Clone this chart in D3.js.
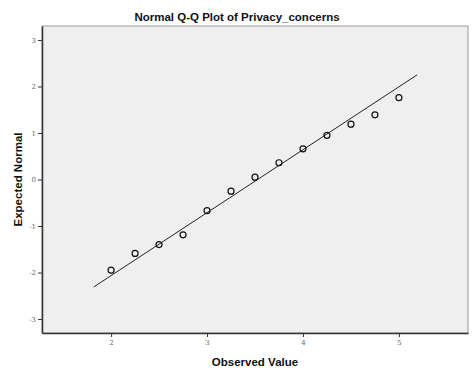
<!DOCTYPE html>
<meta charset="utf-8">
<script src="https://d3js.org/d3.v7.min.js"></script>
<style>
  body { margin: 0; background: #fff; }
  text { font-family: "Liberation Sans", Arial, sans-serif; }
</style>
<div id="chart"></div>
<script>
// observed values and their expected normal scores
var observed = [2, 2.25, 2.5, 2.75, 3, 3.25, 3.5, 3.75, 4, 4.25, 4.5, 4.75, 5];
var expected = [-1.95, -1.59, -1.40, -1.19, -0.67, -0.25, 0.05, 0.36, 0.66, 0.95, 1.19, 1.39, 1.76];
// reference line end points
var lineX = [1.82, 5.19];
var lineY = [-2.31, 2.25];
var xTicks = [2, 3, 4, 5];
var yTicks = [-3, -2, -1, 0, 1, 2, 3];

var W = 474, H = 379;
var margin = {top: 26, right: 6, bottom: 46, left: 42};
var width = W - margin.left - margin.right,
    height = H - margin.top - margin.bottom;

var svg = d3.select("#chart").append("svg")
    .attr("width", W).attr("height", H);

var g = svg.append("g")
    .attr("transform", "translate(" + margin.left + "," + margin.top + ")");

var x = d3.scaleLinear().domain([1.28, 5.72]).range([0, width]);
var y = d3.scaleLinear().domain([-3.3, 3.3]).range([height, 0]);

// plot background
g.append("rect")
  .attr("width", width).attr("height", height)
  .attr("fill", "#efefef")
  .attr("stroke", "#999").attr("stroke-width", 1);

// axes, plain integer labels with a hyphen minus
var fmt = function(d) { return String(d); };
var xAxis = g.append("g")
  .attr("transform", "translate(0," + height + ")")
  .call(d3.axisBottom(x).tickValues(xTicks).tickFormat(fmt).tickSize(4).tickPadding(3).tickSizeOuter(0));
var yAxis = g.append("g")
  .call(d3.axisLeft(y).tickValues(yTicks).tickFormat(fmt).tickSize(4).tickPadding(2).tickSizeOuter(0));

[xAxis, yAxis].forEach(function(a) {
  a.select(".domain").attr("stroke", "#333").attr("stroke-width", 1.5);
  a.selectAll(".tick line").attr("stroke", "#333");
  a.selectAll(".tick text")
    .style("font-size", "7px")
    .style("font-family", "'DejaVu Serif', serif")
    .attr("fill", "#666");
});

// reference line
g.append("line")
  .attr("x1", x(lineX[0])).attr("y1", y(lineY[0]))
  .attr("x2", x(lineX[1])).attr("y2", y(lineY[1]))
  .attr("stroke", "#222").attr("stroke-width", 1);

// points
g.append("g").selectAll("circle")
  .data(observed)
  .enter().append("circle")
    .attr("cx", function(d) { return x(d); })
    .attr("cy", function(d, i) { return y(expected[i]); })
    .attr("r", 3)
    .attr("fill", "none")
    .attr("stroke", "#111")
    .attr("stroke-width", 1.2);

// title
svg.append("text")
  .attr("x", 237).attr("y", 21)
  .attr("text-anchor", "middle")
  .style("font-size", "11.5px").style("font-weight", "bold")
  .attr("fill", "#111")
  .text("Normal Q-Q Plot of Privacy_concerns");

// x label
svg.append("text")
  .attr("x", margin.left + width / 2).attr("y", 366)
  .attr("text-anchor", "middle")
  .style("font-size", "11.5px").style("font-weight", "bold")
  .attr("fill", "#111")
  .text("Observed Value");

// y label
svg.append("text")
  .attr("transform", "translate(22," + (margin.top + height / 2) + ") rotate(-90)")
  .attr("text-anchor", "middle")
  .style("font-size", "11.5px").style("font-weight", "bold")
  .attr("fill", "#111")
  .text("Expected Normal");
</script>
